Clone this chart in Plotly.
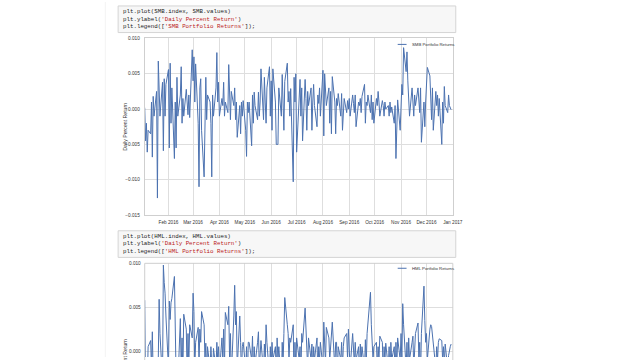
import pandas as pd
import plotly.graph_objects as go

# ---------------- data ----------------
months = ["2016-01", "2016-02", "2016-03", "2016-04", "2016-05", "2016-06",
          "2016-07", "2016-08", "2016-09", "2016-10", "2016-11", "2016-12"]

smb_jan = [0.0002, -0.0045, -0.0020, -0.0061, -0.0030, -0.0035, 0.0010, -0.0068, 0.0018, -0.0010,
           0.0025, -0.0126, 0.0068, 0.0030, -0.0010, 0.0038, -0.0059, 0.0043, -0.0010, 0.0035]
smb_feb = [0.0056, -0.0055, 0.0065, -0.0020, 0.0030, -0.0070, 0.0010, -0.0055, 0.0045, -0.0010,
           0.0020, 0.0060, -0.0020, 0.0015, -0.0010, 0.0028, 0.0010, -0.0008, 0.0020, -0.0012, 0.0084]
smb_mar = [0.0040, 0.0074, 0.0010, 0.0064, -0.0020, -0.0110, 0.0030, 0.0043, -0.0030, -0.0096,
           0.0015, 0.0045, -0.0015, 0.0020, 0.0010, -0.0020, -0.0096, 0.0020, -0.0010, 0.0030,
           0.0080, 0.0010, 0.0038]
smb_apr = [-0.0010, 0.0015, 0.0005, 0.0038, -0.0010, 0.0010, -0.0005, 0.0063, 0.0020, -0.0015,
           0.0025, 0.0005, 0.0030, -0.0015, 0.0010, -0.0040, 0.0005, -0.0035, 0.0010, -0.0010, 0.0012]
smb_may = [-0.0030, -0.0067, 0.0010, -0.0005, 0.0010, -0.0052, 0.0020, -0.0020, 0.0024, 0.0005,
           -0.0015, 0.0024, -0.0010, 0.0010, 0.0057, -0.0015, 0.0045, 0.0010, -0.0020, 0.0030,
           0.0060, -0.0010]
smb_jun = [0.0040, -0.0030, 0.0057, 0.0010, -0.0050, -0.0050, -0.0050, 0.0030, -0.0010, 0.0049,
           0.0010, -0.0030, 0.0039, 0.0065, 0.0010, 0.0025, -0.0010, 0.0029, -0.0103, 0.0045,
           0.0010, 0.0050]
smb_jul = [-0.0061, 0.0020, 0.0042, -0.0010, 0.0030, -0.0045, 0.0042, 0.0015, -0.0030, 0.0025,
           0.0005, 0.0030, -0.0030, 0.0010, 0.0035, 0.0005, -0.0025, 0.0020, 0.0008, 0.0030, -0.0010]
smb_aug = [0.0055, -0.0038, 0.0050, 0.0020, 0.0005, 0.0030, -0.0020, 0.0025, -0.0035, 0.0046,
           0.0010, -0.0035, 0.0015, 0.0005, 0.0022, -0.0010, 0.0022, -0.0030, 0.0010, 0.0015,
           -0.0005, 0.0012, 0.0000]
smb_sep = [0.0015, -0.0010, 0.0020, 0.0008, -0.0005, 0.0020, -0.0025, 0.0010, 0.0005, 0.0015,
           -0.0005, 0.0018, 0.0035, -0.0020, 0.0010, 0.0005, 0.0020, -0.0005, 0.0020, -0.0015,
           0.0010, -0.0020]
smb_oct = [0.0015, 0.0005, 0.0025, 0.0010, -0.0010, 0.0012, 0.0005, -0.0010, 0.0010, 0.0000,
           0.0005, -0.0010, 0.0010, -0.0005, 0.0003, -0.0020, 0.0005, -0.0070, -0.0010, 0.0013, -0.0030]
smb_nov = [0.0005, 0.0035, 0.0020, 0.0087, 0.0053, 0.0081, 0.0040, 0.0020, -0.0010, 0.0030,
           0.0010, -0.0010, 0.0020, 0.0005, 0.0030, 0.0010, -0.0005, 0.0030, -0.0047, 0.0010,
           -0.0025, 0.0010]
smb_dec = [0.0035, 0.0059, 0.0047, 0.0010, -0.0015, 0.0030, -0.0030, 0.0025, 0.0005, 0.0020,
           -0.0010, 0.0015, -0.0050, 0.0010, -0.0020, 0.0032, 0.0005, -0.0005, 0.0020, 0.0005,
           0.0003, -0.0001]

hml_jan = [0.0058, -0.0030, -0.0010, -0.0040, 0.0005, 0.0012, -0.0020, 0.0022, -0.0030, -0.0010,
           -0.0045, -0.0020, -0.0010, 0.0059, 0.0020, -0.0035, 0.0098, 0.0078, 0.0066, 0.0040]
hml_feb = [-0.0020, 0.0057, 0.0036, 0.0055, 0.0060, 0.0085, 0.0030, -0.0030, -0.0010, -0.0040,
           0.0037, -0.0020, 0.0015, -0.0025, 0.0042, 0.0025, -0.0030, 0.0020, -0.0015, 0.0030, 0.0015]
hml_mar = [0.0066, 0.0045, -0.0020, 0.0010, 0.0027, -0.0015, 0.0025, 0.0010, 0.0045, 0.0030,
           -0.0010, 0.0009, -0.0030, 0.0005, -0.0020, 0.0005, -0.0015, -0.0035, 0.0003, -0.0020,
           0.0010, -0.0010, 0.0005]
hml_apr = [-0.0025, 0.0015, -0.0010, 0.0025, -0.0020, 0.0044, 0.0030, 0.0051, -0.0010, 0.0020,
           -0.0030, 0.0040, 0.0075, 0.0030, 0.0045, -0.0020, 0.0040, 0.0010, -0.0030, 0.0005, 0.0010]
hml_may = [-0.0020, 0.0005, -0.0040, 0.0010, 0.0010, -0.0010, 0.0017, -0.0030, 0.0005, -0.0015,
           0.0010, 0.0022, -0.0020, 0.0005, 0.0012, -0.0025, 0.0008, -0.0010, 0.0030, 0.0010,
           -0.0030, 0.0005]
hml_jun = [-0.0020, 0.0010, -0.0010, 0.0005, -0.0030, 0.0015, -0.0010, 0.0005, -0.0040, 0.0010,
           -0.0015, 0.0020, 0.0061, 0.0030, 0.0020, -0.0010, 0.0015, 0.0010, 0.0030, -0.0050,
           0.0010, -0.0020]
hml_jul = [0.0015, -0.0010, 0.0005, -0.0030, 0.0020, 0.0010, 0.0049, 0.0030, 0.0010, -0.0020,
           0.0015, -0.0010, 0.0008, -0.0025, 0.0005, -0.0010, 0.0015, -0.0030, 0.0005, -0.0010, 0.0010]
hml_aug = [-0.0020, 0.0033, 0.0010, -0.0015, 0.0027, 0.0015, -0.0010, 0.0010, 0.0020, 0.0033,
           -0.0020, 0.0010, 0.0010, -0.0030, 0.0005, -0.0010, 0.0010, -0.0020, 0.0005, 0.0015,
           0.0020, -0.0010, 0.0025]
hml_sep = [0.0010, -0.0020, 0.0020, 0.0005, -0.0015, 0.0010, -0.0010, 0.0005, -0.0030, 0.0008,
           -0.0010, 0.0005, -0.0020, 0.0013, -0.0015, 0.0020, 0.0035, 0.0067, 0.0030, 0.0015,
           -0.0010, 0.0005]
hml_oct = [0.0010, -0.0020, 0.0005, -0.0010, 0.0017, 0.0010, -0.0030, 0.0005, -0.0010, 0.0009,
           -0.0020, 0.0005, -0.0040, 0.0010, -0.0010, 0.0005, -0.0030, 0.0010, -0.0020, 0.0015, -0.0010]
hml_nov = [0.0020, -0.0010, 0.0054, 0.0030, -0.0020, 0.0010, -0.0030, 0.0015, -0.0010, 0.0010,
           0.0017, -0.0020, 0.0010, 0.0020, 0.0032, -0.0010, 0.0010, -0.0030, 0.0020, 0.0074,
           0.0035, 0.0010]
hml_dec = [0.0020, -0.0010, 0.0025, 0.0030, 0.0028, 0.0020, 0.0007, -0.0020, 0.0005, -0.0010,
           0.0010, 0.0014, 0.0012, -0.0010, 0.0005, -0.0015, 0.0008, -0.0020, -0.0005, 0.0003,
           0.0005, 0.0008]

smb_months = [smb_jan, smb_feb, smb_mar, smb_apr, smb_may, smb_jun,
              smb_jul, smb_aug, smb_sep, smb_oct, smb_nov, smb_dec]
hml_months = [hml_jan, hml_feb, hml_mar, hml_apr, hml_may, hml_jun,
              hml_jul, hml_aug, hml_sep, hml_oct, hml_nov, hml_dec]

tick_dates = ["2016-02-01", "2016-03-01", "2016-04-01", "2016-05-01", "2016-06-01", "2016-07-01",
              "2016-08-01", "2016-09-01", "2016-10-01", "2016-11-01", "2016-12-01", "2017-01-01"]
tick_labels = ["Feb 2016", "Mar 2016", "Apr 2016", "May 2016", "Jun 2016", "Jul 2016",
               "Aug 2016", "Sep 2016", "Oct 2016", "Nov 2016", "Dec 2016", "Jan 2017"]
smb_yticks = [-0.015, -0.010, -0.005, 0.000, 0.005, 0.010]
hml_yticks = [0.000, 0.005, 0.010]


def build(series_months):
    dates, vals = [], []
    for m, v in zip(months, series_months):
        start = pd.Timestamp(m + "-01")
        if m == "2016-01":
            start = pd.Timestamp("2016-01-04")
        d = pd.bdate_range(start, start + pd.offsets.MonthEnd(0))
        n = min(len(d), len(v))
        dates.extend(list(d[:n]))
        vals.extend(v[:n])
    return dates, vals


smb_x, smb_y = build(smb_months)
hml_x, hml_y = build(hml_months)

# ---------------- figure ----------------
W, H = 640, 360
LINE = "#4C72B0"
GRID = "#dedede"
FRAME = "#cfcfcf"
TXT = "#333333"
SANS = "Liberation Sans, Arial, sans-serif"
MONO = "Liberation Mono, DejaVu Sans Mono, monospace"


def px(x):
    return x / W


def py(y):
    return 1 - y / H


fig = go.Figure()
fig.add_trace(go.Scatter(x=smb_x, y=smb_y, mode="lines", line=dict(color=LINE, width=1),
                         xaxis="x", yaxis="y", showlegend=False))
fig.add_trace(go.Scatter(x=hml_x, y=hml_y, mode="lines", line=dict(color=LINE, width=1),
                         xaxis="x2", yaxis="y2", showlegend=False))

xdom = [px(147), px(460)]
xrange_ = ["2016-01-04", "2017-01-01"]
common_x = dict(type="date", range=xrange_, domain=xdom, tickvals=tick_dates,
                showgrid=True, gridcolor=GRID, gridwidth=1, zeroline=False, ticks="",
                tickfont=dict(family=SANS, size=4.7, color=TXT))
fig.update_layout(
    width=W, height=H, margin=dict(l=0, r=0, t=0, b=0),
    paper_bgcolor="white", plot_bgcolor="white",
    xaxis=dict(anchor="y", ticktext=tick_labels, showline=True, linecolor=FRAME, linewidth=1,
               mirror=True, ticklabelstandoff=2, **common_x),
    yaxis=dict(domain=[py(216), py(37)], range=[-0.015, 0.010], tickvals=smb_yticks,
               tickformat=".3f", showgrid=True, gridcolor=GRID, zeroline=False, ticks="",
               showline=True, linecolor=FRAME, linewidth=1, mirror=True, ticklabelstandoff=3,
               tickfont=dict(family=SANS, size=4.7, color=TXT)),
    xaxis2=dict(anchor="y2", showticklabels=False, showline=False, **common_x),
    yaxis2=dict(domain=[0, py(265)], range=[-0.000674, 0.010], tickvals=hml_yticks,
                tickformat=".3f", showgrid=True, gridcolor=GRID, zeroline=False, ticks="",
                showline=False, ticklabelstandoff=3, anchor="x2",
                tickfont=dict(family=SANS, size=4.7, color=TXT)),
)

shapes = []
# notebook left rule
shapes.append(dict(type="line", xref="paper", yref="paper", x0=px(107), x1=px(107), y0=py(0), y1=py(360),
                   line=dict(color="#f3f3f3", width=1)))
# code cells
for top, bot in [(4, 31), (232, 259)]:
    shapes.append(dict(type="rect", xref="paper", yref="paper", x0=px(120), x1=px(463),
                       y0=py(bot), y1=py(top), fillcolor="#f7f7f7", line=dict(color="#d4d4d4", width=1),
                       layer="below"))
# frame of second plot (bottom cut off)
shapes.append(dict(type="rect", xref="paper", yref="paper", x0=px(147), x1=px(460),
                   y0=py(380), y1=py(265), line=dict(color=FRAME, width=1), fillcolor="rgba(0,0,0,0)"))
# legend samples
for ly in [43, 270]:
    shapes.append(dict(type="line", xref="paper", yref="paper", x0=px(404), x1=px(413),
                       y0=py(ly), y1=py(ly), line=dict(color=LINE, width=1)))
fig.update_layout(shapes=shapes)

STR = "#BA2121"


def s(t):
    return f"<span style='color:{STR}'>{t}</span>"


code1 = ["plt.plot(SMB.index, SMB.values)",
         "plt.ylabel(" + s("'Daily Percent Return'") + ")",
         "plt.legend([" + s("'SMB Portfolio Returns'") + "]);"]
code2 = ["plt.plot(HML.index, HML.values)",
         "plt.ylabel(" + s("'Daily Percent Return'") + ")",
         "plt.legend([" + s("'HML Portfolio Returns'") + "]);"]

ann = []
for lines, y0 in [(code1, 10), (code2, 238)]:
    for k, t in enumerate(lines):
        ann.append(dict(text=t, xref="paper", yref="paper", x=px(123), y=py(y0 + 7.3 * k),
                        xanchor="left", yanchor="middle", showarrow=False,
                        font=dict(family=MONO, size=5.8, color="#222222")))
# legends
for t, ly in [("SMB Portfolio Returns", 43), ("HML Portfolio Returns", 270)]:
    ann.append(dict(text=t, xref="paper", yref="paper", x=px(416), y=py(ly), xanchor="left",
                    yanchor="middle", showarrow=False, font=dict(family=SANS, size=4.3, color=TXT)))
# y labels
for cy in [126.5, 366]:
    ann.append(dict(text="Daily Percent Return", xref="paper", yref="paper", x=px(127), y=py(cy),
                    xanchor="center", yanchor="middle", textangle=-90, showarrow=False,
                    font=dict(family=SANS, size=5.2, color=TXT)))
fig.update_layout(annotations=ann)

fig.write_html("out.html", config={"displayModeBar": False},
               post_script="document.body.style.margin='0';document.body.style.overflow='hidden';")
